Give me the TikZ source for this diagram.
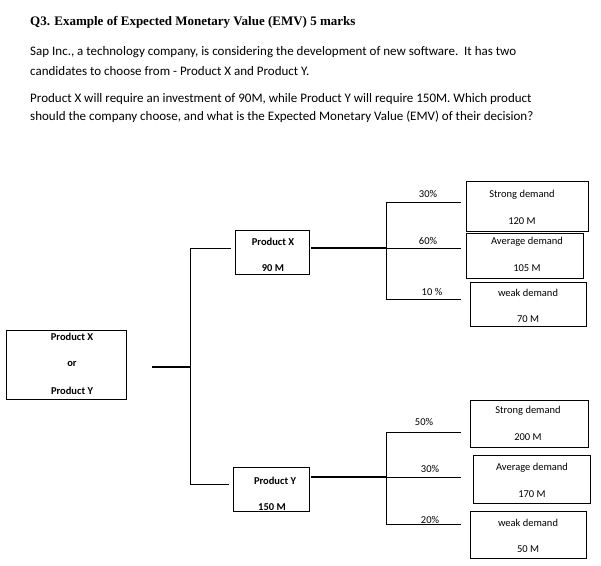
\documentclass[tikz,border=0pt]{standalone}
\usepackage{fontspec}
\setmainfont{Carlito}
\newfontfamily\titlefont{Liberation Serif}
\begin{document}
\begin{tikzpicture}[x=1pt,y=-1pt,
  bx/.style={draw,line width=1pt},
  ln/.style={line width=0.9pt},
  thk/.style={line width=2pt},
  t/.style={font=\fontsize{10.5}{12}\selectfont,inner sep=0pt},
  tb/.style={t,font=\fontsize{10.5}{12}\selectfont\bfseries},
  body/.style={anchor=west,inner sep=0pt,font=\fontsize{13}{15}\selectfont}]
\useasboundingbox (0,0) rectangle (601,565);
\node[anchor=west,inner sep=0pt,font=\titlefont\fontsize{13}{15}\selectfont\bfseries] (title) at (30,22) {Q3. Example of Expected Monetary Value (EMV) 5 marks};
\node[body] (l1) at (30,52) {Sap Inc., a technology company, is considering the development of new software.\ \ It has two};
\node[body] (l2) at (30,71) {candidates to choose from - Product X and Product Y.};
\node[body] (l3) at (30,99) {Product X will require an investment of 90M, while Product Y will require 150M. Which product};
\node[body] (l4) at (30,117) {should the company choose, and what is the Expected Monetary Value (EMV) of their decision?};
% root
\draw[bx] (6,330) rectangle (126,399);
\node[tb] (r1) at (72,337) {Product X};
\node[tb] (r2) at (72,364) {or};
\node[tb] (r3) at (72,391) {Product Y};
\coordinate (rs) at (152,367);
\coordinate (rj) at (190,367);
\draw[thk] (rs) -- (rj);
\coordinate (vt) at (190,248);
\coordinate (vb) at (190,484);
\draw[ln] (vt) -- (vb);
\coordinate (xe) at (231,248);
\coordinate (ye) at (229,484);
\draw[ln] (vt) -- (xe);
\draw[ln] (vb) -- (ye);
% Product X
\draw[bx] (235,230) rectangle (309,274);
\node[tb] (px) at (273,242) {Product X};
\node[tb] (pxv) at (273,268) {90 M};
\coordinate (xs) at (311,248);
\coordinate (xj) at (386,248);
\draw[thk] (xs) -- (xj);
\coordinate (xa) at (386,202); \coordinate (xb) at (386,299);
\draw[ln] (xa) -- (xb);
\coordinate (xa2) at (461,202); \coordinate (xm2) at (461,248); \coordinate (xb2) at (461,299);
\draw[ln] (xa) -- (xa2); \draw[ln] (xj) -- (xm2); \draw[ln] (xb) -- (xb2);
\node[t] (p1) at (428,194) {30\%};
\node[t] (p2) at (428,241) {60\%};
\node[t] (p3) at (432,292) {10 \%};
\draw[bx] (466,181) rectangle (588,231);
\node[t] (s1) at (522,195) {Strong demand};
\node[t] (s1v) at (522,221) {120 M};
\draw[bx] (466,233) rectangle (583,278);
\node[t] (a1) at (527,242) {Average demand};
\node[t] (a1v) at (527,268) {105 M};
\draw[bx] (470,282) rectangle (586,326);
\node[t] (w1) at (528,293) {weak demand};
\node[t] (w1v) at (528,319) {70 M};
% Product Y
\draw[bx] (233,467) rectangle (309,511);
\node[tb] (py) at (275,481) {Product Y};
\node[tb] (pyv) at (272,507) {150 M};
\coordinate (ys) at (311,477);
\coordinate (yj) at (386,477);
\draw[thk] (ys) -- (yj);
\coordinate (ya) at (386,432); \coordinate (yb) at (386,524);
\draw[ln] (ya) -- (yb);
\coordinate (ya2) at (461,432); \coordinate (ym2) at (461,477); \coordinate (yb2) at (461,524);
\draw[ln] (ya) -- (ya2); \draw[ln] (yj) -- (ym2); \draw[ln] (yb) -- (yb2);
\node[t] (q1) at (424,422) {50\%};
\node[t] (q2) at (430,469) {30\%};
\node[t] (q3) at (430,520) {20\%};
\draw[bx] (470,400) rectangle (588,447);
\node[t] (s2) at (528,411) {Strong demand};
\node[t] (s2v) at (528,437) {200 M};
\draw[bx] (473,455) rectangle (590,503);
\node[t] (a2) at (532,468) {Average demand};
\node[t] (a2v) at (532,494) {170 M};
\draw[bx] (470,511) rectangle (586,558);
\node[t] (w2) at (528,523) {weak demand};
\node[t] (w2v) at (528,549) {50 M};
\end{tikzpicture}
\end{document}
